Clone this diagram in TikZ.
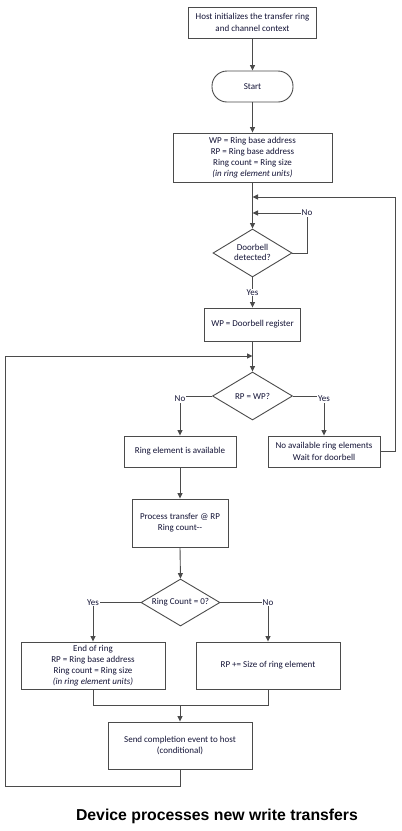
\documentclass[tikz,border=0pt]{standalone}
\usepackage{fontspec}
\setmainfont{Carlito}
\newfontfamily\titlefont{Liberation Sans}
\usetikzlibrary{shapes.geometric,arrows.meta}
\definecolor{linegray}{RGB}{75,75,75}
\definecolor{textnavy}{RGB}{20,20,55}

\begin{document}
\begin{tikzpicture}[x=1pt, y=-1pt,
    >={Triangle[length=5.5pt, width=5pt]},
    every node/.style={font=\fontsize{9}{11.2}\selectfont, text=textnavy},
    box/.style={draw=linegray, line width=0.9pt, fill=white, align=center, inner sep=0pt},
    terminal/.style={box, rounded corners=15pt},
    decision/.style={diamond, draw=linegray, line width=0.9pt, fill=white, inner sep=0pt, aspect=1.6},
    lbl/.style={fill=white, inner sep=1pt},
    flow/.style={draw=linegray, line width=0.9pt}]
    \useasboundingbox (0,0) rectangle (402,831);
    % Setup by the host
    \node[box, minimum width=128pt, minimum height=31pt] (init) at (252.5,22.5)
        {Host initializes the transfer ring\\and channel context};
    \node[terminal, minimum width=81pt, minimum height=31pt] (start) at (252.5,86.5) {Start};
    \node[box, minimum width=159pt, minimum height=49pt] (setup) at (252.5,157.5)
        {WP = Ring base address\\RP = Ring base address\\Ring count = Ring size\\\textit{(in ring element units)}};
    % Doorbell wait
    \node[decision, minimum width=79pt, minimum height=48pt] (doorbell) at (252.5,253)
        {\makebox[0pt]{\begin{tabular}{@{}c@{}}Doorbell\\[-1.2pt]detected?\end{tabular}}};
    \node[box, minimum width=96pt, minimum height=33pt] (wpdb) at (252.5,324.5) {WP = Doorbell register};
    % Ring check
    \node[decision, minimum width=80pt, minimum height=48pt] (rpwp) at (252.5,396) {\makebox[0pt]{RP = WP?}};
    \node[box, minimum width=112pt, minimum height=31pt] (avail) at (180,451.5) {Ring element is available};
    \node[box, minimum width=112pt, minimum height=31pt] (noavail) at (324,451.5)
        {No available ring elements\\Wait for doorbell};
    % Transfer
    \node[box, minimum width=96pt, minimum height=48pt] (process) at (180,523)
        {Process transfer @ RP\\Ring count-{}-};
    \node[decision, minimum width=79pt, minimum height=47pt] (rc) at (180.5,602.5) {\makebox[0pt]{Ring Count = 0?}};
    \node[box, minimum width=144pt, minimum height=47pt] (endring) at (93,665.5)
        {End of ring\\RP = Ring base address\\Ring count = Ring size\\\textit{(in ring element units)}};
    \node[box, minimum width=144pt, minimum height=47pt] (rpinc) at (268,665.5) {RP += Size of ring element};
    \node[box, minimum width=144pt, minimum height=47pt] (send) at (180,745.5)
        {Send completion event to host\\(conditional)};
    % Title
    \node[anchor=base, text=black, font=\titlefont\bfseries\fontsize{15.8}{18}\selectfont] (title) at (217,820.5)
        {Device processes new write transfers};

    % Corners of the loops
    \coordinate (rcorner) at (395,197);
    \coordinate (rjoin) at (252.5,197);
    \coordinate (dbcorner) at (307,213);
    \coordinate (dbjoin) at (252.5,213);
    \coordinate (lcorner) at (5,786);
    \coordinate (ljoin) at (252.5,356);
    \coordinate (merge) at (180,705);

    % Connectors
    \draw[flow,->] (init.south) -- (start.north);
    \draw[flow,->] (start.south) -- (setup.north);
    \draw[flow,->] (setup.south) -- (doorbell.north);
    \draw[flow,->] (doorbell.east) -| (dbcorner) node[lbl] (dbno) {No} -- (dbjoin);
    \draw[flow,->] (doorbell.south) -- node[lbl] (dbyes) {Yes} (wpdb.north);
    \draw[flow,->] (wpdb.south) -- (rpwp.north);
    \draw[flow,->] (rpwp.west) -| node[lbl, yshift=-3pt] (rpno) {No} (avail.north);
    \draw[flow,->] (rpwp.east) -| node[lbl, yshift=-3pt] (rpyes) {Yes} (noavail.north);
    \draw[flow,->] (noavail.east) -| (rcorner) -- (rjoin);
    \draw[flow,->] (avail.south) -- (process.north);
    \draw[flow,->] (process.south) -- (rc.north);
    \draw[flow,->] (rc.west) -| node[lbl] (rcyes) {Yes} (endring.north);
    \draw[flow,->] (rc.east) -| node[lbl] (rcno) {No} (rpinc.north);
    \draw[flow] (endring.south) |- (merge) -| (rpinc.south);
    \draw[flow,->] (merge) -- (send.north);
    \draw[flow,->] (send.south) |- (lcorner) |- (ljoin);
\end{tikzpicture}
\end{document}
